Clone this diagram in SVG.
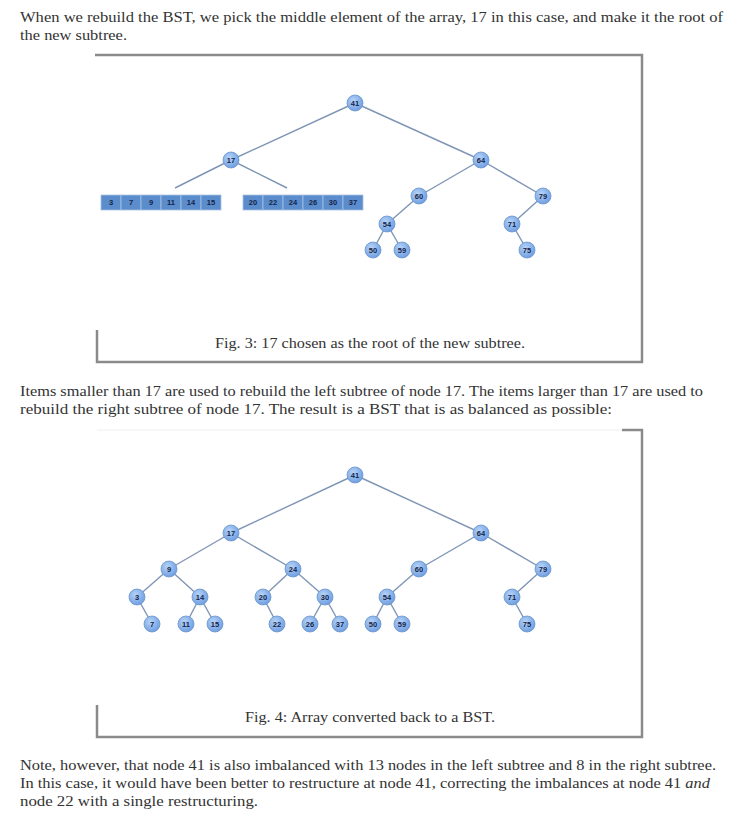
<svg xmlns="http://www.w3.org/2000/svg" width="739" height="814" viewBox="0 0 739 814">
<defs>
<radialGradient id="g" cx="40%" cy="35%" r="70%"><stop offset="0" stop-color="#b5d3f7"/><stop offset="1" stop-color="#6b9be0"/></radialGradient>
<style>
.p{font-family:"Liberation Serif",serif;font-size:14.5px;fill:#333}
.n circle{fill:url(#g);stroke:#6a94cc;stroke-width:0.8}
.n text,.a text{font-family:"Liberation Sans",sans-serif;font-size:7.5px;font-weight:bold;fill:#14244a;text-anchor:middle}
.a rect{fill:#5b8ccc;stroke:#a8c2e4;stroke-width:0.8}
.c line{stroke:#7f95b5;stroke-width:1.4}
.f{stroke:#8a8a8a;stroke-width:2.5;fill:none}
</style>
</defs>
<rect width="739" height="814" fill="#fff"/>
<text class="p" x="20" y="22" textLength="703" lengthAdjust="spacingAndGlyphs">When we rebuild the BST, we pick the middle element of the array, 17 in this case, and make it the root of</text>
<text class="p" x="20" y="40" textLength="107" lengthAdjust="spacingAndGlyphs">the new subtree.</text>
<path class="f" d="M95 55H642V362H97V330"/>
<text class="p" x="215" y="348" textLength="310" lengthAdjust="spacingAndGlyphs">Fig. 3: 17 chosen as the root of the new subtree.</text>
<text class="p" x="20" y="396" textLength="683" lengthAdjust="spacingAndGlyphs">Items smaller than 17 are used to rebuild the left subtree of node 17. The items larger than 17 are used to</text>
<text class="p" x="20" y="414" textLength="592" lengthAdjust="spacingAndGlyphs">rebuild the right subtree of node 17. The result is a BST that is as balanced as possible:</text>
<path d="M97 430H622" stroke="#eee" stroke-width="1"/>
<path class="f" d="M622 430H642V737H97V705"/>
<text class="p" x="245" y="722" textLength="250" lengthAdjust="spacingAndGlyphs">Fig. 4: Array converted back to a BST.</text>
<text class="p" x="20" y="770" textLength="696" lengthAdjust="spacingAndGlyphs">Note, however, that node 41 is also imbalanced with 13 nodes in the left subtree and 8 in the right subtree.</text>
<text class="p" x="20" y="788" textLength="690" lengthAdjust="spacingAndGlyphs">In this case, it would have been better to restructure at node 41, correcting the imbalances at node 41 <tspan font-style="italic">and</tspan></text>
<text class="p" x="20" y="806" textLength="238" lengthAdjust="spacingAndGlyphs">node 22 with a single restructuring.</text>

<g id="connectors" class="c">
<line x1="355" y1="103" x2="231" y2="160"/><line x1="355" y1="103" x2="481" y2="160"/>
<line x1="231" y1="160" x2="175" y2="188"/><line x1="231" y1="160" x2="287" y2="188"/>
<line x1="481" y1="160" x2="419" y2="196"/><line x1="481" y1="160" x2="543" y2="196"/>
<line x1="419" y1="196" x2="387" y2="224"/><line x1="543" y1="196" x2="512" y2="224"/>
<line x1="387" y1="224" x2="373" y2="250"/><line x1="387" y1="224" x2="402" y2="250"/>
<line x1="512" y1="224" x2="527" y2="250"/>

<line x1="355" y1="475" x2="231" y2="533"/><line x1="355" y1="475" x2="481" y2="533"/>
<line x1="231" y1="533" x2="169" y2="569"/><line x1="231" y1="533" x2="293" y2="569"/>
<line x1="481" y1="533" x2="419" y2="569"/><line x1="481" y1="533" x2="543" y2="569"/>
<line x1="169" y1="569" x2="137" y2="597"/><line x1="169" y1="569" x2="200" y2="597"/>
<line x1="293" y1="569" x2="263" y2="597"/><line x1="293" y1="569" x2="325" y2="597"/>
<line x1="419" y1="569" x2="387" y2="597"/><line x1="543" y1="569" x2="512" y2="597"/>
<line x1="137" y1="597" x2="152" y2="624"/><line x1="200" y1="597" x2="186" y2="624"/><line x1="200" y1="597" x2="215" y2="624"/>
<line x1="263" y1="597" x2="277" y2="624"/><line x1="325" y1="597" x2="310" y2="624"/><line x1="325" y1="597" x2="340" y2="624"/>
<line x1="387" y1="597" x2="373" y2="624"/><line x1="387" y1="597" x2="402" y2="624"/><line x1="512" y1="597" x2="527" y2="624"/>
</g>

<g id="array-left" class="a">
<rect x="101" y="195" width="20" height="15"/><rect x="121" y="195" width="20" height="15"/><rect x="141" y="195" width="20" height="15"/><rect x="161" y="195" width="20" height="15"/><rect x="181" y="195" width="20" height="15"/><rect x="201" y="195" width="20" height="15"/>
<text x="111" y="205">3</text><text x="131" y="205">7</text><text x="151" y="205">9</text><text x="171" y="205">11</text><text x="191" y="205">14</text><text x="211" y="205">15</text>
</g>
<g id="array-right" class="a">
<rect x="243" y="195" width="20" height="15"/><rect x="263" y="195" width="20" height="15"/><rect x="283" y="195" width="20" height="15"/><rect x="303" y="195" width="20" height="15"/><rect x="323" y="195" width="20" height="15"/><rect x="343" y="195" width="20" height="15"/>
<text x="253" y="205">20</text><text x="273" y="205">22</text><text x="293" y="205">24</text><text x="313" y="205">26</text><text x="333" y="205">30</text><text x="353" y="205">37</text>
</g>

<g id="f3-41" class="n"><circle cx="355" cy="103" r="8"/><text x="355" y="105.5">41</text></g>
<g id="f3-17" class="n"><circle cx="231" cy="160" r="8"/><text x="231" y="162.5">17</text></g>
<g id="f3-64" class="n"><circle cx="481" cy="160" r="8"/><text x="481" y="162.5">64</text></g>
<g id="f3-60" class="n"><circle cx="419" cy="196" r="8"/><text x="419" y="198.5">60</text></g>
<g id="f3-79" class="n"><circle cx="543" cy="196" r="8"/><text x="543" y="198.5">79</text></g>
<g id="f3-54" class="n"><circle cx="387" cy="224" r="8"/><text x="387" y="226.5">54</text></g>
<g id="f3-71" class="n"><circle cx="512" cy="224" r="8"/><text x="512" y="226.5">71</text></g>
<g id="f3-50" class="n"><circle cx="373" cy="250" r="8"/><text x="373" y="252.5">50</text></g>
<g id="f3-59" class="n"><circle cx="402" cy="250" r="8"/><text x="402" y="252.5">59</text></g>
<g id="f3-75" class="n"><circle cx="527" cy="250" r="8"/><text x="527" y="252.5">75</text></g>

<g id="f4-41" class="n"><circle cx="355" cy="475" r="8"/><text x="355" y="477.5">41</text></g>
<g id="f4-17" class="n"><circle cx="231" cy="533" r="8"/><text x="231" y="535.5">17</text></g>
<g id="f4-64" class="n"><circle cx="481" cy="533" r="8"/><text x="481" y="535.5">64</text></g>
<g id="f4-9" class="n"><circle cx="169" cy="569" r="8"/><text x="169" y="571.5">9</text></g>
<g id="f4-24" class="n"><circle cx="293" cy="569" r="8"/><text x="293" y="571.5">24</text></g>
<g id="f4-60" class="n"><circle cx="419" cy="569" r="8"/><text x="419" y="571.5">60</text></g>
<g id="f4-79" class="n"><circle cx="543" cy="569" r="8"/><text x="543" y="571.5">79</text></g>
<g id="f4-3" class="n"><circle cx="137" cy="597" r="8"/><text x="137" y="599.5">3</text></g>
<g id="f4-14" class="n"><circle cx="200" cy="597" r="8"/><text x="200" y="599.5">14</text></g>
<g id="f4-20" class="n"><circle cx="263" cy="597" r="8"/><text x="263" y="599.5">20</text></g>
<g id="f4-30" class="n"><circle cx="325" cy="597" r="8"/><text x="325" y="599.5">30</text></g>
<g id="f4-54" class="n"><circle cx="387" cy="597" r="8"/><text x="387" y="599.5">54</text></g>
<g id="f4-71" class="n"><circle cx="512" cy="597" r="8"/><text x="512" y="599.5">71</text></g>
<g id="f4-7" class="n"><circle cx="152" cy="624" r="8"/><text x="152" y="626.5">7</text></g>
<g id="f4-11" class="n"><circle cx="186" cy="624" r="8"/><text x="186" y="626.5">11</text></g>
<g id="f4-15" class="n"><circle cx="215" cy="624" r="8"/><text x="215" y="626.5">15</text></g>
<g id="f4-22" class="n"><circle cx="277" cy="624" r="8"/><text x="277" y="626.5">22</text></g>
<g id="f4-26" class="n"><circle cx="310" cy="624" r="8"/><text x="310" y="626.5">26</text></g>
<g id="f4-37" class="n"><circle cx="340" cy="624" r="8"/><text x="340" y="626.5">37</text></g>
<g id="f4-50" class="n"><circle cx="373" cy="624" r="8"/><text x="373" y="626.5">50</text></g>
<g id="f4-59" class="n"><circle cx="402" cy="624" r="8"/><text x="402" y="626.5">59</text></g>
<g id="f4-75" class="n"><circle cx="527" cy="624" r="8"/><text x="527" y="626.5">75</text></g>
</svg>
